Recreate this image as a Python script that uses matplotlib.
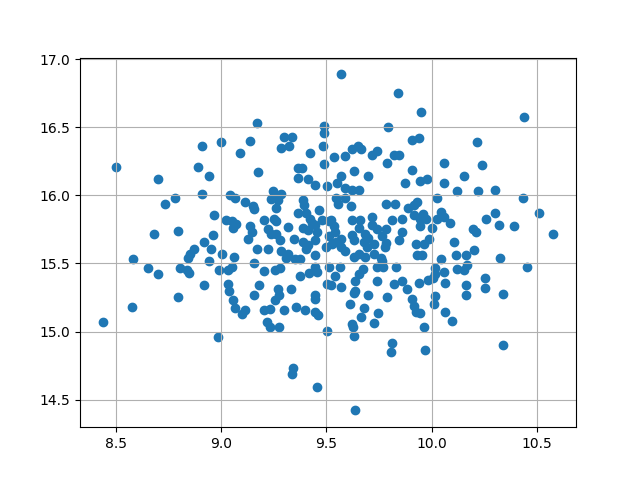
import matplotlib
matplotlib.use("Agg")
import matplotlib.pyplot as plt

# values, grouped roughly by region of the plot
# top band
x_top = [8.50, 8.91, 9.00, 9.09, 8.89, 9.567, 9.84, 9.17, 9.49, 9.49, 9.795,
         9.135, 9.30, 9.335, 9.285, 9.32, 9.485, 9.42, 9.49, 9.535, 9.59, 9.62,
         9.65, 9.665, 9.715, 9.74, 9.82, 9.845, 9.905, 9.79, 9.175, 9.365,
         9.385, 9.63, 9.905, 9.95, 10.44, 9.94, 10.215, 10.06, 10.24]
y_top = [16.21, 16.36, 16.39, 16.31, 16.21, 16.89, 16.75, 16.53, 16.51, 16.46,
         16.50, 16.40, 16.43, 16.43, 16.35, 16.36, 16.36, 16.31, 16.23, 16.285,
         16.29, 16.34, 16.36, 16.345, 16.295, 16.33, 16.30, 16.30, 16.41, 16.24,
         16.17, 16.20, 16.205, 16.18, 16.19, 16.61, 16.58, 16.42, 16.39, 16.24,
         16.225]

# middle band, left part
x_left = [8.70, 8.94, 8.78, 8.73, 8.91, 9.04, 9.065, 9.115, 9.15, 8.967, 9.02,
          9.05, 9.07, 9.055, 9.135, 9.125, 8.68, 8.795, 8.96, 8.92, 8.95, 8.87,
          8.85, 8.84, 9.005, 9.06, 8.94, 8.58, 8.65, 8.805, 8.70, 8.845, 8.835,
          8.99, 9.03, 9.05, 8.92, 9.03, 9.035]
y_left = [16.12, 16.14, 15.98, 15.94, 16.01, 16.005, 15.98, 15.955, 15.925,
          15.855, 15.82, 15.815, 15.79, 15.76, 15.775, 15.68, 15.72, 15.74,
          15.71, 15.66, 15.61, 15.61, 15.57, 15.54, 15.57, 15.55, 15.52, 15.535,
          15.47, 15.47, 15.42, 15.43, 15.455, 15.455, 15.45, 15.475, 15.34,
          15.35, 15.295]

# middle band, right part
x_right = [10.155, 9.945, 9.98, 10.06, 10.12, 10.22, 10.30, 10.435, 10.51,
           10.58, 10.025, 9.93, 9.915, 10.045, 10.06, 10.09, 10.025, 9.96,
           9.915, 9.945, 9.975, 9.945, 10.0, 10.26, 10.30, 10.32, 10.39, 10.195,
           10.21, 9.99, 10.105, 9.925, 9.965, 9.93, 9.955, 10.20, 10.115,
           10.165, 10.045, 10.325, 10.455, 10.17, 10.12, 10.155, 10.015, 10.06,
           10.015, 10.005, 9.985, 9.94, 10.065, 10.255, 10.255, 10.165, 10.165,
           10.34, 10.015]
y_right = [16.14, 16.105, 16.12, 16.09, 16.03, 16.03, 16.04, 15.98, 15.87,
           15.72, 15.98, 15.95, 15.93, 15.88, 15.845, 15.795, 15.825, 15.865,
           15.855, 15.83, 15.825, 15.775, 15.76, 15.83, 15.87, 15.78, 15.775,
           15.75, 15.73, 15.68, 15.655, 15.64, 15.64, 15.565, 15.565, 15.60,
           15.565, 15.565, 15.535, 15.54, 15.475, 15.49, 15.46, 15.45, 15.47,
           15.44, 15.42, 15.39, 15.38, 15.355, 15.36, 15.39, 15.32, 15.34,
           15.27, 15.275, 15.26]

# middle band, dense centre
x_mid = [9.365, 9.41, 9.445, 9.505, 9.57, 9.55, 9.70, 9.59, 9.62, 9.655, 9.875,
         9.245, 9.285, 9.26, 9.155, 9.235, 9.27, 9.26, 9.39, 9.395, 9.545, 9.555,
         9.59, 9.615, 9.785, 9.825, 9.89, 9.365, 9.405, 9.465, 9.205, 9.25,
         9.26, 9.315, 9.145, 9.22, 9.235, 9.26, 9.28, 9.345, 9.39, 9.41, 9.43,
         9.445, 9.455, 9.48, 9.42, 9.39, 9.41, 9.445, 9.405, 9.17, 9.22, 9.285,
         9.315, 9.31, 9.35, 9.375, 9.445, 9.50, 9.51, 9.51, 9.52, 9.535, 9.54,
         9.525, 9.545, 9.57, 9.59, 9.57, 9.62, 9.66, 9.715, 9.62, 9.63, 9.655,
         9.685, 9.70, 9.68, 9.715, 9.74, 9.765, 9.725, 9.695, 9.655, 9.63,
         9.685, 9.725, 9.76, 9.78, 9.785, 9.81, 9.86, 9.785, 9.86, 9.845,
         9.155, 9.205, 9.255, 9.28, 9.375, 9.415, 9.445, 9.455, 9.51, 9.565,
         9.54, 9.505, 9.52, 9.57, 9.635, 9.655, 9.675, 9.74, 9.77, 9.765, 9.83,
         9.74, 9.635, 9.82, 9.86, 9.885, 9.33, 9.27, 9.18, 9.445]
y_mid = [16.13, 16.12, 16.08, 16.07, 16.14, 16.09, 16.14, 16.055, 16.04, 16.04,
         16.09, 16.03, 16.01, 16.005, 15.90, 15.975, 15.97, 15.905, 15.97,
         15.93, 15.98, 15.94, 15.98, 15.92, 15.94, 15.94, 15.905, 15.87, 15.87,
         15.895, 15.82, 15.83, 15.81, 15.765, 15.73, 15.75, 15.72, 15.72, 15.67,
         15.68, 15.76, 15.745, 15.795, 15.78, 15.73, 15.82, 15.83, 15.66, 15.635,
         15.67, 15.61, 15.61, 15.605, 15.59, 15.57, 15.54, 15.535, 15.535,
         15.56, 15.62, 15.70, 15.81, 15.82, 15.775, 15.73, 15.645, 15.66, 15.62,
         15.595, 15.68, 15.82, 15.82, 15.845, 15.71, 15.67, 15.76, 15.72,
         15.685, 15.66, 15.78, 15.75, 15.70, 15.645, 15.62, 15.57, 15.55, 15.55,
         15.57, 15.54, 15.62, 15.65, 15.82, 15.83, 15.75, 15.73, 15.67,
         15.50, 15.445, 15.455, 15.465, 15.41, 15.43, 15.475, 15.44, 15.475,
         15.475, 15.41, 15.35, 15.34, 15.325, 15.37, 15.42, 15.46, 15.475,
         15.475, 15.52, 15.475, 15.37, 15.30, 15.35, 15.37, 15.31, 15.31, 15.31,
         15.34, 15.27]

# bottom band
x_bot = [8.435, 8.575, 8.795, 8.985, 9.055, 9.065, 9.10, 9.115, 9.155, 9.205,
         9.23, 9.255, 9.275, 9.30, 9.355, 9.40, 9.445, 9.445, 9.46, 9.215, 9.23,
         9.275, 9.505, 9.34, 9.335, 9.455, 9.635, 9.63, 9.70, 9.61, 9.68, 9.665,
         9.745, 9.725, 9.62, 9.625, 9.63, 9.79, 9.905, 9.915, 9.925, 9.945,
         9.81, 9.805, 10.01, 10.065, 10.095, 9.965, 9.97, 10.34]
y_bot = [15.07, 15.18, 15.25, 14.96, 15.235, 15.175, 15.13, 15.155, 15.27,
         15.16, 15.165, 15.23, 15.265, 15.155, 15.18, 15.16, 15.24, 15.14, 15.12,
         15.07, 15.03, 15.035, 15.005, 14.735, 14.685, 14.59, 14.42, 15.28,
         15.265, 15.205, 15.175, 15.11, 15.135, 15.06, 15.055, 15.035, 14.97,
         15.25, 15.24, 15.19, 15.14, 15.135, 14.915, 14.85, 15.20, 15.14, 15.08,
         15.03, 14.865, 14.90]

x = x_top + x_left + x_right + x_mid + x_bot
y = y_top + y_left + y_right + y_mid + y_bot

plt.figure(figsize=(6.4, 4.8), dpi=100)
plt.scatter(x, y)
plt.grid(True)
plt.savefig("out.png")
